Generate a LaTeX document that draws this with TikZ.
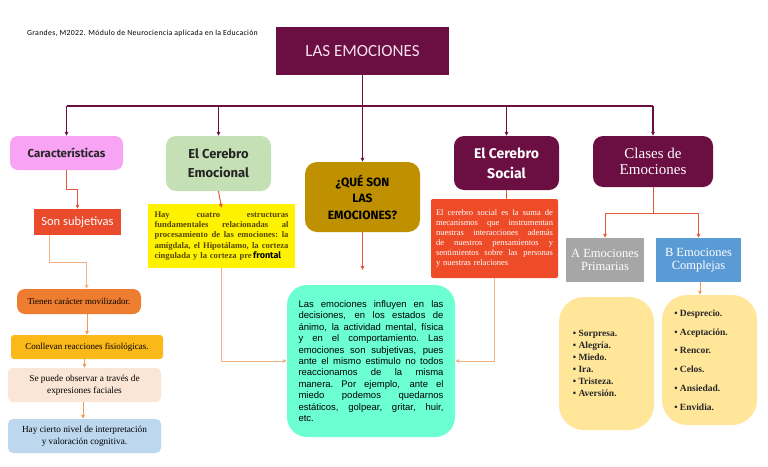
\documentclass[tikz,border=0pt]{standalone}
\usepackage{fontspec}
\setmainfont{Liberation Serif}
\newfontfamily\calfont{Carlito}
\newfontfamily\calspaced{Carlito}[LetterSpace=4]
\newfontfamily\arialfont{Liberation Sans}
\newfontfamily\comicfont{Fira Sans}
\usetikzlibrary{arrows.meta}
\definecolor{maroon}{HTML}{6B0E41}
\definecolor{pinkbox}{HTML}{F8A3F3}
\definecolor{greenbox}{HTML}{C5E0B4}
\definecolor{goldbox}{HTML}{BF9000}
\definecolor{subred}{HTML}{E94B2C}
\definecolor{redbox}{HTML}{EE4B28}
\definecolor{grayA}{HTML}{A6A6A6}
\definecolor{blueB}{HTML}{5B9BD5}
\definecolor{tieorange}{HTML}{EE7D2F}
\definecolor{conyellow}{HTML}{FAB819}
\definecolor{sepeach}{HTML}{FBE5D6}
\definecolor{hayblue}{HTML}{BDD7EE}
\definecolor{mint}{HTML}{6BFFD2}
\definecolor{tan}{HTML}{FFE699}
\definecolor{lineRed}{HTML}{E2583E}
\definecolor{lineLight}{HTML}{F4B183}
\definecolor{lineOrange}{HTML}{F29A55}
\definecolor{titletext}{HTML}{F5E1EE}
\definecolor{darktext}{HTML}{262626}
\definecolor{olivetext}{HTML}{574700}
\newcommand\jl[2]{\leavevmode\hbox to #1{\spaceskip=0.25em plus 1fil\xspaceskip=0.25em plus 1fil\relax #2}}
\begin{document}
\begin{tikzpicture}[x=1pt,y=-1pt,
  box/.style={inner sep=0pt, align=center, text=darktext},
  tip/.style={-{Triangle[length=4pt,width=3.5pt]}},
  mline/.style={draw=maroon, line width=1.2pt},
  rline/.style={draw=lineRed, line width=1pt},
  lline/.style={draw=lineLight, line width=1pt},
  oline/.style={draw=lineOrange, line width=1pt}]
\useasboundingbox (0,0) rectangle (768,466);
\fill[white] (0,0) rectangle (768,466);

% citation
\node[box, text=black, font=\calspaced\fontsize{7.8}{9}\selectfont] (cit) at (142.5,33) {Grandes, M2022. Módulo de Neurociencia aplicada en la Educación};

% title
\node[box, fill=maroon, minimum width=173pt, minimum height=48pt, text=titletext, font=\calfont\fontsize{17}{20}\selectfont] (title) at (362.5,51) {LAS EMOCIONES};

% level 1
\node[box, fill=pinkbox, rounded corners=8pt, minimum width=113pt, minimum height=34pt, font=\comicfont\bfseries\fontsize{11.5}{14}\selectfont] (car) at (66.5,153) {Características};
\node[box, fill=greenbox, rounded corners=10pt, minimum width=105pt, minimum height=55pt, font=\comicfont\bfseries\fontsize{13}{19}\selectfont] (emo) at (218.5,163.5) {El Cerebro\\Emocional};
\node[box, fill=goldbox, rounded corners=12pt, minimum width=115pt, minimum height=70pt, text=black, font=\comicfont\bfseries\fontsize{12}{16.5}\selectfont] (que) at (362.5,197) {¿QUÉ SON\\LAS\\EMOCIONES?};
\node[box, fill=maroon, rounded corners=10pt, minimum width=105pt, minimum height=54pt, text=white, font=\comicfont\bfseries\fontsize{14}{20}\selectfont] (soc) at (506.5,163) {El Cerebro\\Social};
\node[box, fill=maroon, rounded corners=10pt, minimum width=120pt, minimum height=51pt, text=white, font=\fontsize{15}{16}\selectfont] (cla) at (653,161.5) {Clases de\\Emociones};

% left column
\node[box, fill=subred, minimum width=87pt, minimum height=26pt, text=white, font=\calfont\fontsize{12.5}{14}\selectfont] (sub) at (77.5,222) {Son subjetivas};
\node[box, fill=tieorange, rounded corners=8pt, minimum width=124pt, minimum height=25pt, text=black, font=\fontsize{9}{11}\selectfont] (tie) at (79,301.5) {Tienen carácter movilizador.};
\node[box, fill=conyellow, rounded corners=3pt, minimum width=152pt, minimum height=24pt, text=black, font=\fontsize{9}{11}\selectfont] (con) at (87,347) {Conllevan reacciones fisiológicas.};
\node[box, fill=sepeach, rounded corners=5pt, minimum width=153pt, minimum height=34pt, text=black, font=\fontsize{9.3}{11.7}\selectfont] (se) at (84.5,385) {Se puede observar a través de\\expresiones faciales};
\node[box, fill=hayblue, rounded corners=5pt, minimum width=153pt, minimum height=34pt, text=black, font=\fontsize{9.3}{11.7}\selectfont] (hay) at (84.5,436) {Hay cierto nivel de interpretación\\y valoración cognitiva.};

% yellow box
\node[box, fill=yellow, minimum width=147pt, minimum height=64pt] (yel) at (221.5,236) {};
\node[inner sep=0pt, text width=134pt, align=left, text=olivetext, font=\bfseries\fontsize{8.6}{10.3}\selectfont] (yeltext) at (yel.center) {\jl{134pt}{Hay cuatro estructuras}\\\jl{134pt}{fundamentales relacionadas al}\\\jl{134pt}{procesamiento de las emociones: la}\\\jl{134pt}{amígdala, el Hipotálamo, la corteza}\\cingulada y la corteza pre\,{\color{black}\comicfont\bfseries\fontsize{9}{10}\selectfont frontal}};

% red box
\node[box, fill=redbox, rounded corners=2pt, minimum width=127pt, minimum height=79pt] (red) at (494.5,238.5) {};
\node[inner sep=0pt, text width=117pt, align=left, text=white, font=\fontsize{8.5}{10}\selectfont] (redtext) at (red.center) {\jl{117pt}{El cerebro social es la suma de}\\\jl{117pt}{mecanismos que instrumentan}\\\jl{117pt}{nuestras interacciones además}\\\jl{117pt}{de nuestros pensamientos y}\\\jl{117pt}{sentimientos sobre las personas}\\y nuestras relaciones};

% A / B
\node[box, fill=grayA, minimum width=78pt, minimum height=44pt, text=white, font=\fontsize{12.5}{13.5}\selectfont] (A) at (605,260) {A Emociones\\Primarias};
\node[box, fill=blueB, minimum width=85pt, minimum height=44pt, text=white, font=\fontsize{12.5}{13.5}\selectfont] (B) at (698.5,260) {B Emociones\\Complejas};

% green box
\node[box, fill=mint, rounded corners=20pt, minimum width=168pt, minimum height=152pt] (grn) at (371,361) {};
\node[inner sep=0pt, text width=145pt, align=left, text=black, font=\arialfont\fontsize{9.5}{11.4}\selectfont] (grntext) at (grn.center) {\jl{145pt}{Las emociones influyen en las}\\\jl{145pt}{decisiones, en los estados de}\\\jl{145pt}{ánimo, la actividad mental, física}\\\jl{145pt}{y en el comportamiento. Las}\\\jl{145pt}{emociones son subjetivas, pues}\\\jl{145pt}{ante el mismo estimulo no todos}\\\jl{145pt}{reaccionamos de la misma}\\\jl{145pt}{manera. Por ejemplo, ante el}\\\jl{145pt}{miedo podemos quedarnos}\\\jl{145pt}{estáticos, golpear, gritar, huir,}\\etc.};

% tan boxes
\node[box, fill=tan, rounded corners=25pt, minimum width=95pt, minimum height=133pt] (tanL) at (606.5,363.5) {};
\node[inner sep=0pt, align=left, text=darktext, font=\bfseries\fontsize{9.5}{12}\selectfont] (listL) at (595,363) {• Sorpresa.\\• Alegría.\\• Miedo.\\• Ira.\\• Tristeza.\\• Aversión.};
\node[box, fill=tan, rounded corners=25pt, minimum width=95pt, minimum height=130pt] (tanR) at (709.5,360) {};
\node[inner sep=0pt, align=left, text=darktext, font=\bfseries\fontsize{9.5}{18.8}\selectfont] (listR) at (701,360) {• Desprecio.\\• Aceptación.\\• Rencor.\\• Celos.\\• Ansiedad.\\• Envidia.};

% connectors: top bus
\coordinate (bus) at (362.5,106);
\draw[mline] (bus -| car.north) -- (bus -| cla.north);
\draw[mline, tip] (title.south) -- (que.north);
\draw[mline, tip] (bus -| car.north) -- (car.north);
\draw[mline, tip] (bus -| emo.north) -- (emo.north);
\draw[mline, tip] (bus -| soc.north) -- (soc.north);
\draw[mline, tip] (bus -| cla.north) -- (cla.north);

% left column connectors
\draw[rline, tip] (car.south) -- ++(0,19) -| (sub.north);
\draw[lline, tip] ([xshift=-28pt]sub.south) -- ++(0,27) -| ([xshift=7.7pt]tie.north);
\draw[oline, tip] (con.north |- tie.south) -- (con.north);
\draw[oline, tip] (se.north |- con.south) -- (se.north);
\draw[oline, tip] ([xshift=-1.5pt]se.south) -- ([xshift=-1.5pt]hay.north);

% middle connectors
\draw[rline, tip] (emo.south) -- ([yshift=-4pt]yel.north);
\draw[lline, tip] (yel.south) |- (grn.west);
\coordinate (queend) at (362.5,270);
\draw[rline, tip] (que.south) -- (queend);
\draw[rline] (soc.south) -- (soc.south |- red.north);
\draw[lline, tip] (red.south) |- (grn.east);

% right connectors
\draw[rline] (cla.south) -- ++(0,26) coordinate (j);
\draw[rline] (j -| A.north) -- (j -| B.north);
\draw[rline, tip] (j -| A.north) -- (A.north);
\draw[rline, tip] (j -| B.north) -- (B.north);
\draw[oline, tip] ([xshift=1.5pt]B.south) -- ([xshift=1.5pt]B.south |- tanR.north);
\end{tikzpicture}
\end{document}
